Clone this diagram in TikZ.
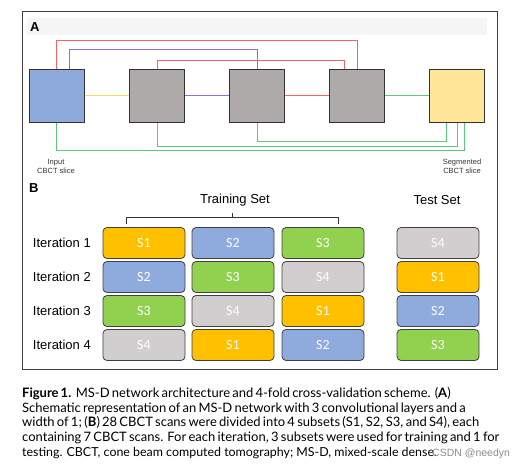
\documentclass[tikz,border=0pt]{standalone}
\usepackage{fontspec}
\setmainfont{Liberation Sans}
\newfontfamily\calib{Carlito}
\newfontfamily\capfont{Lato}
\usetikzlibrary{positioning}

\definecolor{azulA}{HTML}{8EA9DB}
\definecolor{grisA}{HTML}{AEAAAA}
\definecolor{amarA}{HTML}{FFE699}
\definecolor{rojoL}{HTML}{FF5F5F}
\definecolor{moraL}{HTML}{9470C8}
\definecolor{amarL}{HTML}{FFD966}
\definecolor{verdL}{HTML}{5CC97C}
\definecolor{naranja}{HTML}{FFC000}
\definecolor{azulS}{HTML}{8FAADC}
\definecolor{verdS}{HTML}{92D050}
\definecolor{grisS}{HTML}{D0CECE}

\begin{document}
\begin{tikzpicture}[
    x=1pt, y=-1pt,
    every node/.style={font=\fontsize{13}{15}\selectfont},
    capa/.style={rectangle, draw=black!80, line width=1pt, minimum width=55pt,
        minimum height=52pt, inner sep=0pt, fill=grisA},
    sub/.style={rectangle, rounded corners=4pt, draw=black!75, line width=0.8pt,
        minimum width=82pt, minimum height=31pt, inner sep=0pt, text=white,
        font=\calib\fontsize{14}{16}\selectfont},
    lin/.style={line width=1pt},
    etq/.style={font=\fontsize{7.5}{9}\selectfont, align=center, text=black!80},
    it/.style={anchor=east, inner sep=0pt},
    leyenda/.style={anchor=base west, inner sep=0pt, font=\capfont\fontsize{13}{15}\selectfont},
]
    \useasboundingbox (0,0) rectangle (524,468);

    % Marco y cabecera
    \draw[black!75, line width=1pt] (22,12) rectangle (497,369);
    \fill[black!4] (27,18) rectangle (487,35);
    \node[anchor=west, inner sep=0pt, font=\bfseries\fontsize{13}{15}\selectfont] (la) at (30,27) {A};
    \node[anchor=west, inner sep=0pt, font=\bfseries\fontsize{13}{15}\selectfont] (lb) at (29,188) {B};

    % Capas MS-D
    \node[capa, fill=azulA] (in0) at (56.5,96) {};
    \node[capa] (c1) at (157,96) {};
    \node[capa] (c2) at (257,96) {};
    \node[capa] (c3) at (357,96) {};
    \node[capa, fill=amarA] (out) at (457,96) {};

    % Conexiones horizontales
    \draw[lin, amarL] (in0) -- (c1);
    \draw[lin, moraL] (c1) -- (c2);
    \draw[lin, rojoL] (c2) -- (c3);
    \draw[lin, verdL] (c3) -- (out);

    % Conexiones por arriba
    \draw[lin, rojoL] (in0.north) -- ++(0,-29) -| (c3.north);
    \draw[lin, moraL] ([xshift=12.5pt]in0.north) -- ++(0,-20) -| (c2.north);
    \draw[lin, rojoL] (c1.north) -- ++(0,-9) -| ([xshift=-13pt]c3.north);

    % Conexiones por abajo
    \draw[lin, verdL] (c2.south) -- ++(0,19) -| ([xshift=-11pt]out.south);
    \draw[lin, verdL] (c1.south) -- ++(0,24) -| (out.south);
    \draw[lin, verdL] (in0.south) -- ++(0,28) -| ([xshift=7pt]out.south);

    % Etiquetas de entrada y salida
    \node[etq] (lin0) at (56,166) {Input\\CBCT slice};
    \node[etq] (lout) at (462,166) {Segmented\\CBCT slice};

    % Titulos
    \node (train) at (235,200) {Training Set};
    \node (test) at (437,200) {Test Set};
    \draw[black!80, line width=0.8pt] (126,224) -- (126,217) -- (338,217) -- (338,224);
    \draw[black!80, line width=0.8pt] (232,217) -- (232,213);

    % Iteraciones
    \node[it] (i1) at (91,243) {Iteration 1};
    \node[it] (i2) at (91,277) {Iteration 2};
    \node[it] (i3) at (91,311) {Iteration 3};
    \node[it] (i4) at (91,345) {Iteration 4};

    % Iteracion 1
    \node[sub, fill=naranja] (s11) at (144,243) {S1};
    \node[sub, fill=azulS] (s12) at (233,243) {S2};
    \node[sub, fill=verdS] (s13) at (323,243) {S3};
    \node[sub, fill=grisS] (t1) at (438,243) {S4};

    % Iteracion 2
    \node[sub, fill=azulS] (s21) at (144,277) {S2};
    \node[sub, fill=verdS] (s22) at (233,277) {S3};
    \node[sub, fill=grisS] (s23) at (323,277) {S4};
    \node[sub, fill=naranja] (t2) at (438,277) {S1};

    % Iteracion 3
    \node[sub, fill=verdS] (s31) at (144,311) {S3};
    \node[sub, fill=grisS] (s32) at (233,311) {S4};
    \node[sub, fill=naranja] (s33) at (323,311) {S1};
    \node[sub, fill=azulS] (t3) at (438,311) {S2};

    % Iteracion 4
    \node[sub, fill=grisS] (s41) at (144,345) {S4};
    \node[sub, fill=naranja] (s42) at (233,345) {S1};
    \node[sub, fill=azulS] (s43) at (323,345) {S2};
    \node[sub, fill=verdS] (t4) at (438,345) {S3};

    % Leyenda
    \node[leyenda] (cap1) at (22,397.5) {\makebox[428pt][s]{\textbf{Figure 1.}\ \ MS-D network architecture and 4-fold cross-validation scheme. (\textbf{A})}};
    \node[leyenda] (cap2) at (22,412.2) {\makebox[431pt][s]{Schematic representation of an MS-D network with 3 convolutional layers and a}};
    \node[leyenda] (cap3) at (22,426.9) {\makebox[455pt][s]{width of 1; (\textbf{B}) 28 CBCT scans were divided into 4 subsets (S1, S2, S3, and S4), each}};
    \node[leyenda] (cap4) at (22,441.6) {\makebox[471pt][s]{containing 7 CBCT scans. For each iteration, 3 subsets were used for training and 1 for}};
    \node[leyenda, font=\capfont\fontsize{12.4}{15}\selectfont] (cap5) at (22,456.3) {testing. CBCT, cone beam computed tomography; MS-D, mixed-scale dense.};
    \node[anchor=base west, inner sep=0pt, text=black!45, font=\fontsize{10.5}{12}\selectfont] (wm) at (432,456.3) {CSDN @needyn};
\end{tikzpicture}
\end{document}
